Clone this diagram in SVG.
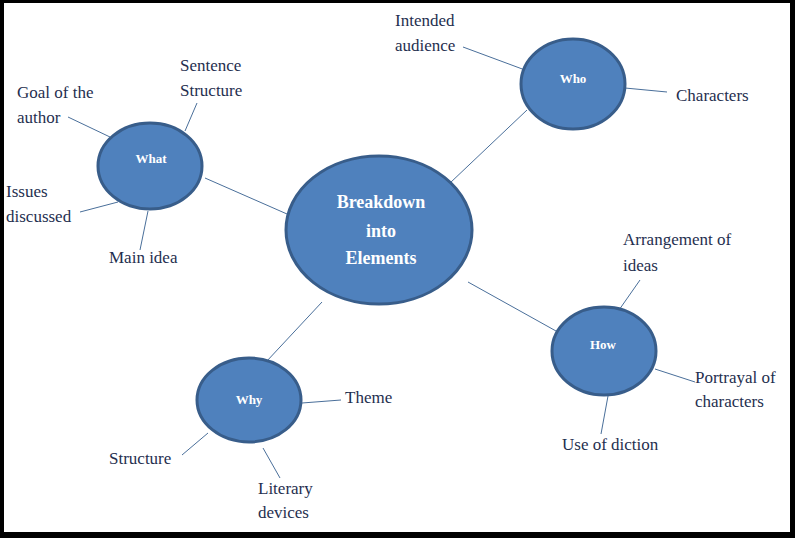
<svg xmlns="http://www.w3.org/2000/svg" width="795" height="538" viewBox="0 0 795 538">
<style>
.n{fill:#4f81bd;stroke:#385d8a;stroke-width:3}
.t{font-family:"Liberation Serif",serif;font-size:17px;fill:#1f2f4f}
.l{font-family:"Liberation Serif",serif;font-weight:bold;fill:#fff;text-anchor:middle}
.c line{stroke:#4a6f9a;stroke-width:1}
</style>
<rect x="0" y="0" width="795" height="538" fill="#000"/>
<rect x="4" y="3" width="786" height="529" fill="#fff"/>
<g class="c">
<line x1="205" y1="178" x2="287" y2="214"/>
<line x1="450" y1="183" x2="527" y2="110"/>
<line x1="468" y1="282" x2="556" y2="331"/>
<line x1="322" y1="302" x2="266" y2="362"/>
<line x1="463" y1="47" x2="525" y2="70"/>
<line x1="625" y1="88" x2="667" y2="92"/>
<line x1="68" y1="117" x2="110" y2="137"/>
<line x1="197" y1="103" x2="185" y2="131"/>
<line x1="80" y1="212" x2="118" y2="202"/>
<line x1="148" y1="211" x2="140" y2="250"/>
<line x1="640" y1="280" x2="619" y2="310"/>
<line x1="655" y1="369" x2="695" y2="382"/>
<line x1="608" y1="396" x2="601" y2="434"/>
<line x1="302" y1="403" x2="341" y2="400"/>
<line x1="182" y1="455" x2="208" y2="433"/>
<line x1="263" y1="448" x2="280" y2="478"/>
</g>
<g id="center"><ellipse class="n" cx="379" cy="230" rx="93" ry="74"/>
<text class="l" font-size="18" x="381" y="208">Breakdown</text><text class="l" font-size="18" x="381" y="237">into</text><text class="l" font-size="18" x="381" y="264">Elements</text></g>
<g id="what"><ellipse class="n" cx="150" cy="166" rx="52" ry="43"/><text class="l" font-size="13" x="151" y="163">What</text></g>
<g id="who"><ellipse class="n" cx="573" cy="84" rx="52" ry="45"/><text class="l" font-size="13" x="573" y="83">Who</text></g>
<g id="how"><ellipse class="n" cx="604" cy="351" rx="52" ry="44"/><text class="l" font-size="13" x="603" y="349">How</text></g>
<g id="why"><ellipse class="n" cx="249" cy="400" rx="52" ry="42"/><text class="l" font-size="13" x="249" y="404">Why</text></g>
<g id="labels">
<text class="t" x="17" y="98">Goal of the</text><text class="t" x="17" y="123">author</text>
<text class="t" x="180" y="71">Sentence</text><text class="t" x="180" y="96">Structure</text>
<text class="t" x="6" y="197">Issues</text><text class="t" x="6" y="222">discussed</text>
<text class="t" x="109" y="263">Main idea</text>
<text class="t" x="395" y="26">Intended</text><text class="t" x="395" y="51">audience</text>
<text class="t" x="676" y="101">Characters</text>
<text class="t" x="623" y="245">Arrangement of</text><text class="t" x="623" y="271">ideas</text>
<text class="t" x="695" y="383">Portrayal of</text><text class="t" x="695" y="407">characters</text>
<text class="t" x="562" y="450">Use of diction</text>
<text class="t" x="345" y="403">Theme</text>
<text class="t" x="109" y="464">Structure</text>
<text class="t" x="258" y="494">Literary</text><text class="t" x="258" y="518">devices</text>
</g>
</svg>
